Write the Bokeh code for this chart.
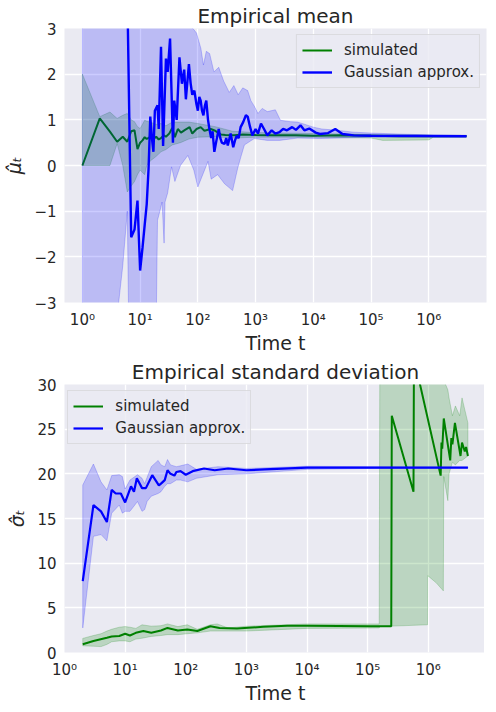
from bokeh.plotting import figure
from bokeh.models import Range1d, FixedTicker, CustomJSTickFormatter
from bokeh.layouts import column
from bokeh.embed import file_html
from bokeh.resources import INLINE

# ---------------- Empirical mean (top panel) ----------------
mean_sim_t = [1, 2, 3, 4, 5, 6, 7, 8, 9, 10, 11, 12, 13, 15, 17, 19, 21, 23, 26, 28, 32, 36, 40,
              45, 51, 60, 72, 80, 95, 112, 130, 167, 200, 250, 300, 430, 600, 1000, 2000, 5000,
              1e4, 3e4, 1e5, 3e5, 1e6, 4.5e6]
mean_sim_y = [0.0, 1.03, 0.74, 0.52, 0.63, 0.52, 0.75, 0.77, 0.36, 0.5, 0.55, 0.62, 0.58, 0.63,
              0.58, 0.63, 0.57, 0.6, 0.66, 0.63, 0.7, 0.82, 0.62, 0.8, 0.72, 0.78, 0.84, 0.7, 0.8,
              0.84, 0.76, 0.8, 0.76, 0.68, 0.67, 0.66, 0.68, 0.67, 0.66, 0.66, 0.65, 0.66, 0.65,
              0.64, 0.64, 0.64]

mean_sim_band_t = [1, 2, 3, 4, 5, 6, 7, 8, 9, 10, 12, 13, 15, 19, 23, 28, 36, 50, 70, 100, 200,
                   400, 1000, 1e4, 1e5, 1.6e5, 1e6, 1.2e6, 4.5e6]
mean_sim_band_lo = [0.0, 0.0, 0.0, 0.48, 0.0, -0.58, -0.45, -0.35, -0.2, -0.1, -0.2, 0.0, 0.1,
                    0.2, 0.3, 0.35, 0.45, 0.5, 0.58, 0.62, 0.63, 0.6, 0.62, 0.62, 0.6, 0.55, 0.56,
                    0.62, 0.63]
mean_sim_band_hi = [2.0, 1.07, 1.17, 1.03, 1.1, 1.14, 1.0, 0.96, 0.85, 0.81, 0.99, 0.97, 0.95,
                    0.9, 0.92, 0.87, 0.95, 0.95, 0.95, 0.92, 0.85, 0.75, 0.72, 0.7, 0.68, 0.68,
                    0.67, 0.66, 0.66]

mean_gauss_t = [1, 2, 3, 4, 5, 6, 7, 8, 9, 10, 11, 12, 13, 14, 15, 16, 17, 18, 20, 21, 23, 25,
                28, 30, 33, 37, 39, 43, 48, 53, 58, 62, 70, 75, 80, 87, 94, 100, 106, 112, 118,
                125, 132, 140, 150, 158, 170, 180, 193, 210, 230, 245, 260, 290, 310, 330, 370,
                410, 440, 470, 510, 550, 610, 680, 730, 800, 880, 1000, 1100, 1240, 1400, 1600,
                1900, 2200, 2600, 3000, 3500, 4300, 5000, 6000, 7000, 8500, 11000, 13000, 18000,
                24000, 32000, 50000, 1e5, 4.5e6]
mean_gauss_y = [9.0, 7.0, 6.0, 5.0, 4.5, 3.8, -1.57, -1.4, -0.77, -2.3, -1.8, -1.3, -0.85, -0.07,
                1.07, 0.6, 0.3, 1.2, 1.32, 0.8, 2.6, 0.43, 2.34, 2.05, 2.78, 0.5, 1.42, 1.0, 2.37,
                1.79, 2.1, 1.45, 2.22, 1.8, 1.55, 1.64, 1.36, 1.2, 1.5, 1.42, 1.2, 1.1, 1.3, 1.42,
                1.0, 0.81, 0.6, 0.75, 0.3, 0.55, 0.8, 0.6, 0.5, 0.47, 0.6, 0.44, 0.7, 0.4, 0.55,
                0.65, 0.6, 0.84, 0.95, 1.1, 1.07, 0.85, 0.66, 0.8, 0.7, 0.92, 0.8, 0.66, 0.77,
                0.7, 0.73, 0.8, 0.77, 0.84, 0.78, 0.88, 0.77, 0.81, 0.72, 0.69, 0.71, 0.8, 0.69,
                0.66, 0.65, 0.64]

mean_gauss_hi_t = [1, 3, 6, 10, 20, 40, 70, 82, 95, 113, 125, 140, 160, 190, 230, 280, 350, 420,
                   500, 600, 730, 830, 950, 1100, 1300, 1600, 2200, 2700, 4000, 5300, 6800, 1e4,
                   1.4e4, 2.6e4, 5e4, 1e5, 3e5, 1e6, 4.5e6]
mean_gauss_hi = [40, 25, 12, 9, 6, 4.5, 3.5, 3.0, 2.9, 2.56, 2.2, 2.5, 2.45, 2.05, 2.15, 1.85,
                 1.6, 1.75, 1.55, 1.7, 1.64, 1.42, 1.3, 1.14, 1.25, 1.18, 1.22, 0.99, 0.96, 0.95,
                 0.91, 0.84, 0.8, 0.77, 0.73, 0.71, 0.69, 0.67, 0.66]
mean_gauss_lo_t = [1, 3, 4, 5, 6, 7, 10, 14, 18, 19, 20, 22, 24, 26, 27, 30, 35, 40, 50, 67, 85,
                   100, 150, 170, 220, 290, 400, 490, 560, 640, 950, 1600, 2600, 5300, 1.3e4,
                   5e4, 1e5, 1e6, 4.5e6]
mean_gauss_lo = [-40, -12, -3.3, -2.2, -1.0, -8, -7, -5, -3.6, -3.5, -1.2, -1.0, -0.8, -1.7,
                 -0.8, -0.6, -0.03, -0.35, 0.0, 0.22, -0.1, -0.47, 0.09, -0.3, -0.2, -0.4, -0.55,
                 -0.06, 0.2, 0.45, 0.59, 0.55, 0.55, 0.6, 0.59, 0.61, 0.62, 0.63, 0.63]

# ---------------- Empirical standard deviation (bottom panel) ----------------
sd_sim_t = [2, 3, 5, 6, 8, 10, 12, 15, 20, 27, 39, 50, 74, 106, 155, 255, 360, 700, 1900, 4700,
            1e4, 1.1e5, 2.45e5, 2.5e5, 5.7e5, 5.8e5, 1.6e6, 1.65e6, 1.7e6, 1.8e6, 2.3e6, 2.4e6,
            2.5e6, 2.75e6, 3.4e6, 3.6e6, 4.0e6, 4.2e6, 4.5e6]
sd_sim_y = [0.92, 1.28, 1.65, 1.8, 1.85, 2.1, 1.9, 2.2, 2.4, 2.2, 2.46, 2.75, 2.46, 2.57, 2.4,
            2.94, 2.75, 2.7, 2.87, 3.0, 3.0, 2.95, 2.95, 26.5, 18.0, 33.0, 19.8, 23.5, 22.8, 26.2,
            21.5, 24.0, 23.3, 25.7, 22.0, 23.5, 22.5, 23.0, 22.0]

sd_sim_band_t = [2, 3, 4, 5, 6, 8, 10, 12, 15, 19, 27, 39, 50, 74, 106, 155, 255, 330, 500, 1000,
                 1e4, 1.55e5, 1.6e5, 9.7e5, 9.8e5, 1.35e6, 1.77e6, 1.8e6, 2.1e6, 2.2e6, 2.5e6,
                 2.8e6, 3.3e6, 3.6e6, 4.5e6]
sd_sim_band_lo = [0.75, 0.7, 0.66, 0.9, 1.2, 1.3, 1.3, 1.2, 1.5, 1.6, 1.8, 1.9, 2.0, 2.0, 2.1,
                  2.2, 2.4, 2.4, 2.4, 2.4, 2.7, 2.75, 2.9, 3.1, 8.6, 7.8, 6.9, 19.7, 17.0, 20.0,
                  21.3, 21.0, 21.5, 21.5, 22.0]
sd_sim_band_hi = [1.58, 1.9, 2.1, 2.4, 2.6, 2.83, 2.9, 2.83, 2.7, 3.1, 2.95, 3.0, 3.2, 2.9, 3.1,
                  2.6, 3.1, 3.2, 2.75, 2.94, 3.2, 3.2, 45, 45, 45, 32, 31, 30.5, 29.4, 28.5, 26.5,
                  27.6, 26.5, 28.5, 25.7]

sd_gauss_t = [2, 3, 4, 5, 6, 7, 8.5, 10, 12.5, 14, 15.6, 19, 22, 28, 36, 39, 45, 50, 56, 65, 70,
              82, 100, 130, 200, 300, 500, 1000, 2000, 1e4, 1e5, 1e6, 4.5e6]
sd_gauss_y = [8.0, 16.5, 15.8, 14.6, 18.2, 17.8, 17.8, 16.8, 18.6, 18.0, 19.5, 18.4, 18.4, 19.85,
              18.7, 18.9, 19.3, 20.4, 20.0, 19.8, 20.2, 20.3, 19.9, 20.3, 20.6, 20.4, 20.6, 20.4,
              20.5, 20.7, 20.7, 20.7, 20.7]

sd_gauss_band_t = [2, 3, 4, 5, 6, 8, 9, 10, 12, 16, 19, 21, 23, 27, 35, 39, 45, 50, 56, 70, 82,
                   108, 150, 340, 1000, 1e4, 1e5, 4.5e6]
sd_gauss_band_lo = [2.75, 13.0, 13.2, 12.5, 15.6, 16.5, 15.6, 15.8, 15.8, 16.9, 15.8, 16.0, 16.9,
                    17.5, 17.8, 18.0, 18.6, 18.9, 18.9, 19.3, 19.3, 19.1, 19.5, 19.9, 20.0, 20.5,
                    20.6, 20.65]
sd_gauss_band_hi = [18.75, 21.1, 19.1, 18.2, 19.8, 19.9, 19.7, 18.3, 19.3, 19.9, 19.5, 18.9,
                    19.6, 20.8, 21.5, 21.0, 20.8, 21.6, 21.0, 20.8, 20.9, 21.1, 20.5, 20.8, 20.6,
                    20.85, 20.8, 20.75]

x_ticks = [1, 10, 100, 1e3, 1e4, 1e5, 1e6]
mean_y_ticks = [-3, -2, -1, 0, 1, 2, 3]
sd_y_ticks = [0, 5, 10, 15, 20, 25, 30]

TXT = "#262626"
FONT = "DejaVu Sans"
GREEN = "#008000"
BLUE = "#0000ff"

sup_fmt_code = """
const s = {"0":"\u2070","1":"\u00b9","2":"\u00b2","3":"\u00b3","4":"\u2074","5":"\u2075",
           "6":"\u2076","7":"\u2077","8":"\u2078","9":"\u2079","-":"\u207b"};
const e = Math.round(Math.log10(tick));
return "10" + String(e).split("").map(c => s[c]).join("");
"""
minus_fmt_code = 'return tick < 0 ? "\u2212" + (-tick) : String(tick);'


def band(p, t_hi, hi, t_lo, lo, color):
    xs = list(t_hi) + list(t_lo)[::-1]
    ys = list(hi) + list(lo)[::-1]
    p.patch(xs, ys, fill_color=color, fill_alpha=0.2,
            line_color=color, line_alpha=0.2, line_width=1)


def make_fig(title, frame_h, x_range, y_range, yticks, ylabel, top):
    p = figure(frame_width=422, frame_height=frame_h, x_axis_type="log",
               x_range=x_range, y_range=y_range,
               output_backend="svg", toolbar_location=None,
               min_border_left=57, min_border_right=1,
               min_border_top=top, min_border_bottom=0)
    p.title.text = title
    p.title.align = "center"
    p.title.text_font = FONT
    p.title.text_font_size = "20px"
    p.title.text_font_style = "normal"
    p.title.text_color = TXT
    p.title.standoff = 2
    p.background_fill_color = "#EAEAF2"
    p.border_fill_color = "white"
    p.outline_line_color = None
    p.grid.grid_line_color = "white"
    p.grid.grid_line_width = 1.3
    p.xaxis.ticker = FixedTicker(ticks=x_ticks, minor_ticks=[])
    p.yaxis.ticker = FixedTicker(ticks=yticks, minor_ticks=[])
    p.xaxis.formatter = CustomJSTickFormatter(code=sup_fmt_code)
    p.yaxis.formatter = CustomJSTickFormatter(code=minus_fmt_code)
    for ax in p.axis:
        ax.axis_line_color = None
        ax.major_tick_line_color = None
        ax.minor_tick_line_color = None
        ax.major_tick_out = 0
        ax.major_tick_in = 0
        ax.minor_tick_out = 0
        ax.minor_tick_in = 0
        ax.major_label_text_font = FONT
        ax.major_label_text_font_size = "15px"
        ax.major_label_text_color = TXT
        ax.major_label_text_line_height = 1.0
        ax.axis_label_text_font = FONT
        ax.axis_label_text_font_size = "19px"
        ax.axis_label_text_color = TXT
        ax.axis_label_text_line_height = 1.0
    p.xaxis.major_label_standoff = 8
    p.xaxis.axis_label_standoff = 0
    p.yaxis.major_label_standoff = 8
    p.yaxis.axis_label_standoff = 6
    p.xaxis.axis_label = "Time t"
    p.xaxis.axis_label_text_font_style = "normal"
    p.yaxis.axis_label = ylabel
    p.yaxis.axis_label_text_font_style = "italic"
    return p


def style_legend(p, loc):
    lg = p.legend[0]
    lg.location = loc
    lg.margin = 6
    lg.padding = 5
    lg.spacing = 2
    lg.glyph_width = 30
    lg.glyph_height = 20
    lg.label_height = 20
    lg.label_standoff = 12
    lg.label_text_font = FONT
    lg.label_text_font_size = "15px"
    lg.label_text_color = TXT
    lg.background_fill_color = "#EAEAF2"
    lg.background_fill_alpha = 0.8
    lg.border_line_color = "#CCCCCC"
    lg.border_line_width = 1


# top
p1 = make_fig("Empirical mean", 274, Range1d(10 ** -0.31, 10 ** 7.0), Range1d(-3, 3),
              mean_y_ticks, "\u03bc\u0302\u209c", 20)
band(p1, mean_sim_band_t, mean_sim_band_hi, mean_sim_band_t, mean_sim_band_lo, GREEN)
p1.line(mean_sim_t, mean_sim_y, line_color=GREEN, line_width=2, legend_label="simulated")
band(p1, mean_gauss_hi_t, mean_gauss_hi, mean_gauss_lo_t, mean_gauss_lo, BLUE)
p1.line(mean_gauss_t, mean_gauss_y, line_color=BLUE, line_width=2.4,
        legend_label="Gaussian approx.")
style_legend(p1, "top_right")

# bottom
p2 = make_fig("Empirical standard deviation", 268, Range1d(1, 10 ** 6.96), Range1d(0, 30),
              sd_y_ticks, "\u03c3\u0302\u209c", 25)
band(p2, sd_sim_band_t, sd_sim_band_hi, sd_sim_band_t, sd_sim_band_lo, GREEN)
p2.line(sd_sim_t, sd_sim_y, line_color=GREEN, line_width=2, legend_label="simulated")
band(p2, sd_gauss_band_t, sd_gauss_band_hi, sd_gauss_band_t, sd_gauss_band_lo, BLUE)
p2.line(sd_gauss_t, sd_gauss_y, line_color=BLUE, line_width=2.2,
        legend_label="Gaussian approx.")
style_legend(p2, "top_left")

layout = column(p1, p2)
open("out.html", "w").write(file_html(layout, INLINE))
